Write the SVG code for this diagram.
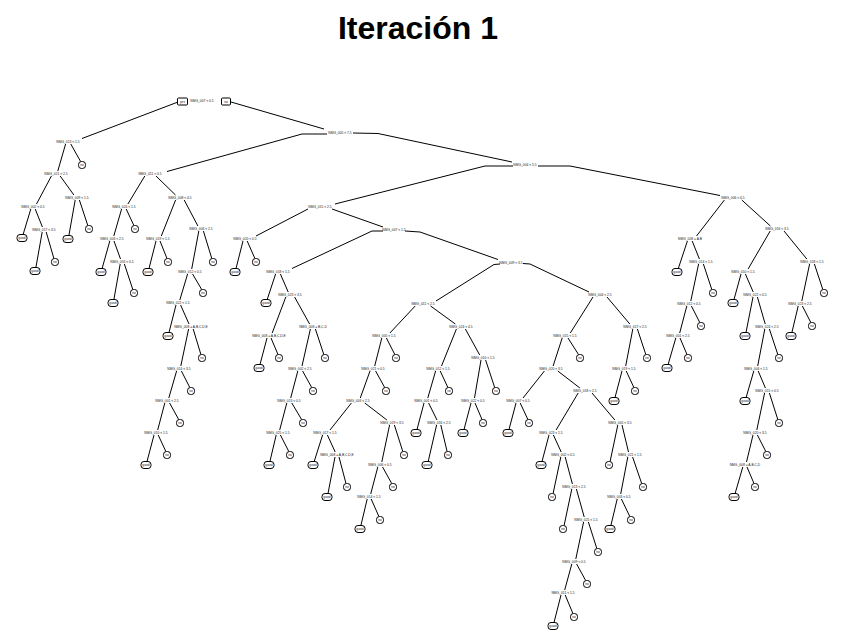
<svg xmlns="http://www.w3.org/2000/svg" width="852" height="642" viewBox="0 0 852 642">
<style>
.bg{fill:#fff}
.title{font-family:"Liberation Sans",Arial,sans-serif;font-size:32px;font-weight:bold;fill:#000;text-anchor:middle}
.e{fill:none;stroke:#000;stroke-width:1}
.s text,.lf text,.yn text{font-family:"Liberation Sans",Arial,sans-serif;font-size:3.3px;fill:#222;text-anchor:middle}
.lf rect,.yn rect{fill:#fff;stroke:#000;stroke-width:1}
.lf rect{rx:3px;ry:3px}
</style>
<rect class="bg" x="0" y="0" width="852" height="642"/>
<text class="title" x="418" y="39">Iteración 1</text>
<g id="connectors">
<path class="e" d="M178 102L82 138.5M231 102L324 129M327 134L302 134L167 171.5M353 133L378 133.5L512 162M513 166L485 166L335 204M538 166L570 166L720 195.5M383 231L372 231L292 268.5M405 231L420 232L498 259.5M500 264L494 264.5L436 301M523 263.5L530 264L589 292"/>
<path class="e" d="M65.6 144L57.8 171M70.8 144L80.6 161.5M51.4 176L36.5 204M60.2 176L73.9 195M30.8 209L23.1 234.5M35.2 209L42.4 227M42.2 232L35.9 267.5M46.2 232L53.9 258.5M75.2 200L68.9 235.5M79.4 200L87.8 225.5"/>
<path class="e" d="M144.8 176L127.9 204M156 176L175.5 195M121.6 209L113.8 236M126.2 209L133.9 225.5M109.8 241L102.1 268.5M114 241L120.5 259M120.2 264L113.9 299.5M124.4 264L132.8 289.5M175.6 200L161.3 236M184.2 200L197.9 226M156 241L149 268.5M160 241L167 258.5M198.8 231L191.7 269M203.4 231L211.8 258.5M187.6 274L179.8 300M192.6 274L201.7 289.5M176 305L169 332.5M180.6 305L189 324M188.6 329L180.8 366M193.2 329L200.9 354.5M176.6 371L168.8 398M181.4 371L189.8 387.5M164.8 403L157.7 430M169.6 403L178.7 419.5M154 435L147 461.5M158.2 435L165.9 451.5"/>
<path class="e" d="M308 209L256 236M332 209L383 227M243 241L236 268.5M247.2 241L254.9 258.5M275.6 274L267.2 299.5M280.4 274L288.2 292M285.8 297L272.2 333M294.6 297L309.6 324M267 338L260 364.5M271 338L278 354.5M310.4 329L302 366M315.4 329L323.8 354.5M297.8 371L290.7 398M302.6 371L311.7 387.5M286.8 403L279.7 430M291.8 403L301.6 419.5M276.2 435L269.9 461.5M280.4 435L288.8 451.5"/>
<path class="e" d="M415.2 306L389.9 333M430.6 306L455.3 324M381.8 338L374.7 366M386.4 338L394.8 354.5M370 371L360.3 398M375.6 371L384.7 387.5M351.4 403L330 430M364.8 403L386.9 420M322.6 435L314.2 461.5M327.4 435L335.2 452M335 457L328 493.5M339 457L346 483.5M389.6 425L381.8 462M394.4 425L402.8 451.5M377.8 467L370.7 494M382.6 467L391.7 483.5M367.2 499L360.9 525.5M371.2 499L378.9 516.5M456.4 329L441.5 366M465.4 329L479.7 355M435.6 371L427.8 398M440.2 371L447.9 387.5M424 403L417 429.5M428.6 403L437 420M436.6 425L428.2 461.5M440.8 425L447.1 451.5M481 360L474.5 398M485.6 360L494.7 387.5M471 403L464 429.5M475 403L482 419.5"/>
<path class="e" d="M593 297L570.3 333M607 297L629.8 324M562.2 338L553.1 366M568 338L578.5 354.5M544.4 371L523 398M557.8 371L579.9 388M516 403L509 429.5M520.2 403L527.9 419.5M578.2 393L556.1 430M592 393L614.8 420M549 435L542 461.5M553.4 435L561.2 452M560.8 457L553.1 493.5M565.2 457L572.4 484M571.8 489L564.1 525.5M576.4 489L584.2 517M583.6 522L575.8 559M588.4 522L596.8 548.5M571.8 564L564.7 590M576.6 564L585.7 580.5M561 595L554 622.5M565.2 595L572.9 613.5M617.8 425L610.1 461.5M622 425L628.5 452M627.8 457L620.7 494M632.6 457L641.7 483.5M617.2 499L610.9 525.5M621.4 499L629.8 516.5M632.8 329L625.7 366M637.4 329L645.8 354.5M622 371L615 397.5M626.2 371L633.9 387.5"/>
<path class="e" d="M724.4 200L696.5 236M741.8 200L770.4 226M687.4 241L678.3 268.5M692.2 241L699.4 259M698.6 264L690.8 301M703.4 264L711.8 289.5M686.8 306L679.7 333M691.4 306L699.8 322.5M675.8 338L668.1 364.5M680 338L687 354.5M770.2 231L748.1 269M784 231L806.8 259M741 274L734 299.5M745.4 274L753.2 292M753 297L746 332.5M757.4 297L765.2 324M764.8 329L757.7 366M769.4 329L777.8 354.5M753.8 371L746.1 397.5M758.2 371L765.4 388M764.6 393L756.8 430M769.4 393L777.8 419.5M753 435L746.5 462M757.4 435L765.8 451.5M742.8 467L735.1 493.5M747 467L754 483.5M809.6 264L801.8 301M814.4 264L822.8 289.5M798.2 306L791.9 332.5M802.4 306L810.8 322.5"/>
</g>
<g id="n0" class="s"><text x="202" y="102.1">NMG_007 &lt; 0.5</text></g>
<g id="yesno" class="yn"><rect x="177.5" y="98" width="10" height="7" rx="1"/><text x="182.5" y="102.6">yes</text><rect x="221.5" y="98" width="9" height="7" rx="1"/><text x="226" y="102.6">no</text></g>
<g id="n1" class="s"><text x="68" y="143.1">NMG_013 &lt; 1.5</text></g>
<g id="n3" class="s"><text x="56" y="175.1">NMG_021 &lt; 2.5</text></g>
<g id="n4" class="s"><text x="33" y="208.1">NMG_002 &lt; 0.5</text></g>
<g id="n6" class="s"><text x="44" y="231.1">NMG_017 &lt; 3.5</text></g>
<g id="n5" class="s"><text x="77" y="199.1">NMG_009 &lt; 1.5</text></g>
<g id="n2" class="s"><text x="340" y="134.1">NMG_005 &lt; 7.5</text></g>
<g id="n7" class="s"><text x="150" y="175.1">NMG_011 &lt; 0.5</text></g>
<g id="n9" class="s"><text x="124" y="208.1">NMG_024 &lt; 1.5</text></g>
<g id="n11" class="s"><text x="112" y="240.1">NMG_003 &lt; 2.5</text></g>
<g id="n12" class="s"><text x="122" y="263.1">NMG_016 &lt; 0.5</text></g>
<g id="n10" class="s"><text x="180" y="199.1">NMG_008 &lt; 4.5</text></g>
<g id="n13" class="s"><text x="158" y="240.1">NMG_019 &lt; 1.5</text></g>
<g id="n14" class="s"><text x="201" y="230.1">NMG_006 &lt; 2.5</text></g>
<g id="n15" class="s"><text x="190" y="273.1">NMG_012 &lt; 0.5</text></g>
<g id="n16" class="s"><text x="178" y="304.1">NMG_022 &lt; 1.5</text></g>
<g id="n17" class="s"><text x="191" y="328.1">NMG_008 = A,B,C,D,E</text></g>
<g id="n18" class="s"><text x="179" y="370.1">NMG_014 &lt; 3.5</text></g>
<g id="n19" class="s"><text x="167" y="402.1">NMG_001 &lt; 2.5</text></g>
<g id="n20" class="s"><text x="156" y="434.1">NMG_010 &lt; 1.5</text></g>
<g id="n8" class="s"><text x="525" y="166.1">NMG_004 &lt; 5.5</text></g>
<g id="n21" class="s"><text x="320" y="208.1">NMG_015 &lt; 2.5</text></g>
<g id="n24" class="s"><text x="245" y="240.1">NMG_020 &lt; 0.5</text></g>
<g id="n23" class="s"><text x="394" y="231.1">NMG_007 &lt; 1.5</text></g>
<g id="n25" class="s"><text x="278" y="273.1">NMG_018 &lt; 1.5</text></g>
<g id="n27" class="s"><text x="290" y="296.1">NMG_023 &lt; 3.5</text></g>
<g id="n28" class="s"><text x="269" y="337.1">NMG_008 = A,B,C,D,E</text></g>
<g id="n29" class="s"><text x="313" y="328.1">NMG_008 = B,C,D</text></g>
<g id="n30" class="s"><text x="300" y="370.1">NMG_002 &lt; 2.5</text></g>
<g id="n31" class="s"><text x="289" y="402.1">NMG_013 &lt; 0.5</text></g>
<g id="n32" class="s"><text x="278" y="434.1">NMG_025 &lt; 1.5</text></g>
<g id="n26" class="s"><text x="511" y="264.1">NMG_009 &lt; 3.5</text></g>
<g id="n33" class="s"><text x="423" y="305.1">NMG_011 &lt; 2.5</text></g>
<g id="n35" class="s"><text x="384" y="337.1">NMG_005 &lt; 1.5</text></g>
<g id="n37" class="s"><text x="373" y="370.1">NMG_021 &lt; 0.5</text></g>
<g id="n38" class="s"><text x="358" y="402.1">NMG_003 &lt; 2.5</text></g>
<g id="n39" class="s"><text x="325" y="434.1">NMG_017 &lt; 1.5</text></g>
<g id="n41" class="s"><text x="337" y="456.1">NMG_008 = A,B,C,D,E</text></g>
<g id="n40" class="s"><text x="392" y="424.1">NMG_019 &lt; 3.5</text></g>
<g id="n42" class="s"><text x="380" y="466.1">NMG_006 &lt; 0.5</text></g>
<g id="n43" class="s"><text x="369" y="498.1">NMG_014 &lt; 1.5</text></g>
<g id="n36" class="s"><text x="461" y="328.1">NMG_024 &lt; 4.5</text></g>
<g id="n44" class="s"><text x="438" y="370.1">NMG_012 &lt; 1.5</text></g>
<g id="n46" class="s"><text x="426" y="402.1">NMG_001 &lt; 0.5</text></g>
<g id="n47" class="s"><text x="439" y="424.1">NMG_016 &lt; 2.5</text></g>
<g id="n45" class="s"><text x="483" y="359.1">NMG_010 &lt; 1.5</text></g>
<g id="n48" class="s"><text x="473" y="402.1">NMG_022 &lt; 0.5</text></g>
<g id="n34" class="s"><text x="600" y="296.1">NMG_004 &lt; 2.5</text></g>
<g id="n49" class="s"><text x="565" y="337.1">NMG_015 &lt; 1.5</text></g>
<g id="n51" class="s"><text x="551" y="370.1">NMG_020 &lt; 3.5</text></g>
<g id="n52" class="s"><text x="518" y="402.1">NMG_007 &lt; 0.5</text></g>
<g id="n53" class="s"><text x="585" y="392.1">NMG_018 &lt; 2.5</text></g>
<g id="n54" class="s"><text x="551" y="434.1">NMG_023 &lt; 1.5</text></g>
<g id="n56" class="s"><text x="563" y="456.1">NMG_002 &lt; 0.5</text></g>
<g id="n57" class="s"><text x="574" y="488.1">NMG_013 &lt; 2.5</text></g>
<g id="n58" class="s"><text x="586" y="521.1">NMG_025 &lt; 1.5</text></g>
<g id="n59" class="s"><text x="574" y="563.1">NMG_009 &lt; 0.5</text></g>
<g id="n60" class="s"><text x="563" y="594.1">NMG_011 &lt; 1.5</text></g>
<g id="n55" class="s"><text x="620" y="424.1">NMG_005 &lt; 3.5</text></g>
<g id="n61" class="s"><text x="630" y="456.1">NMG_021 &lt; 1.5</text></g>
<g id="n62" class="s"><text x="619" y="498.1">NMG_003 &lt; 0.5</text></g>
<g id="n50" class="s"><text x="635" y="328.1">NMG_017 &lt; 2.5</text></g>
<g id="n63" class="s"><text x="624" y="370.1">NMG_019 &lt; 1.5</text></g>
<g id="n22" class="s"><text x="733" y="199.1">NMG_006 &lt; 6.5</text></g>
<g id="n64" class="s"><text x="690" y="240.1">NMG_008 = A,B</text></g>
<g id="n66" class="s"><text x="701" y="263.1">NMG_014 &lt; 1.5</text></g>
<g id="n67" class="s"><text x="689" y="305.1">NMG_012 &lt; 0.5</text></g>
<g id="n68" class="s"><text x="678" y="337.1">NMG_001 &lt; 2.5</text></g>
<g id="n65" class="s"><text x="777" y="230.1">NMG_016 &lt; 3.5</text></g>
<g id="n69" class="s"><text x="743" y="273.1">NMG_010 &lt; 1.5</text></g>
<g id="n71" class="s"><text x="755" y="296.1">NMG_022 &lt; 0.5</text></g>
<g id="n72" class="s"><text x="767" y="328.1">NMG_024 &lt; 2.5</text></g>
<g id="n73" class="s"><text x="756" y="370.1">NMG_004 &lt; 1.5</text></g>
<g id="n74" class="s"><text x="767" y="392.1">NMG_015 &lt; 0.5</text></g>
<g id="n75" class="s"><text x="755" y="434.1">NMG_020 &lt; 3.5</text></g>
<g id="n76" class="s"><text x="745" y="466.1">NMG_008 = A,B,C,D</text></g>
<g id="n70" class="s"><text x="812" y="263.1">NMG_018 &lt; 1.5</text></g>
<g id="n77" class="s"><text x="800" y="305.1">NMG_023 &lt; 2.5</text></g>
<g id="leaves" class="lf">
<g id="l1"><rect x="78.5" y="161.5" width="7" height="7"/><text x="82" y="166.1">no</text></g>
<g id="l2"><rect x="17" y="234.5" width="10" height="7"/><text x="22" y="239.1">good</text></g>
<g id="l3"><rect x="30" y="267.5" width="10" height="7"/><text x="35" y="272.1">good</text></g>
<g id="l4"><rect x="51.5" y="258.5" width="7" height="7"/><text x="55" y="263.1">no</text></g>
<g id="l5"><rect x="63" y="235.5" width="10" height="7"/><text x="68" y="240.1">good</text></g>
<g id="l6"><rect x="85.5" y="225.5" width="7" height="7"/><text x="89" y="230.1">no</text></g>
<g id="l7"><rect x="131.5" y="225.5" width="7" height="7"/><text x="135" y="230.1">no</text></g>
<g id="l8"><rect x="96" y="268.5" width="10" height="7"/><text x="101" y="273.1">good</text></g>
<g id="l9"><rect x="108" y="299.5" width="10" height="7"/><text x="113" y="304.1">good</text></g>
<g id="l10"><rect x="130.5" y="289.5" width="7" height="7"/><text x="134" y="294.1">no</text></g>
<g id="l11"><rect x="143" y="268.5" width="10" height="7"/><text x="148" y="273.1">good</text></g>
<g id="l12"><rect x="164.5" y="258.5" width="7" height="7"/><text x="168" y="263.1">no</text></g>
<g id="l13"><rect x="209.5" y="258.5" width="7" height="7"/><text x="213" y="263.1">no</text></g>
<g id="l14"><rect x="199.5" y="289.5" width="7" height="7"/><text x="203" y="294.1">no</text></g>
<g id="l15"><rect x="163" y="332.5" width="10" height="7"/><text x="168" y="337.1">good</text></g>
<g id="l16"><rect x="198.5" y="354.5" width="7" height="7"/><text x="202" y="359.1">no</text></g>
<g id="l17"><rect x="187.5" y="387.5" width="7" height="7"/><text x="191" y="392.1">no</text></g>
<g id="l18"><rect x="176.5" y="419.5" width="7" height="7"/><text x="180" y="424.1">no</text></g>
<g id="l19"><rect x="141" y="461.5" width="10" height="7"/><text x="146" y="466.1">good</text></g>
<g id="l20"><rect x="163.5" y="451.5" width="7" height="7"/><text x="167" y="456.1">no</text></g>
<g id="l21"><rect x="230" y="268.5" width="10" height="7"/><text x="235" y="273.1">good</text></g>
<g id="l22"><rect x="252.5" y="258.5" width="7" height="7"/><text x="256" y="263.1">no</text></g>
<g id="l23"><rect x="261" y="299.5" width="10" height="7"/><text x="266" y="304.1">good</text></g>
<g id="l24"><rect x="254" y="364.5" width="10" height="7"/><text x="259" y="369.1">good</text></g>
<g id="l25"><rect x="275.5" y="354.5" width="7" height="7"/><text x="279" y="359.1">no</text></g>
<g id="l26"><rect x="321.5" y="354.5" width="7" height="7"/><text x="325" y="359.1">no</text></g>
<g id="l27"><rect x="309.5" y="387.5" width="7" height="7"/><text x="313" y="392.1">no</text></g>
<g id="l28"><rect x="299.5" y="419.5" width="7" height="7"/><text x="303" y="424.1">no</text></g>
<g id="l29"><rect x="264" y="461.5" width="10" height="7"/><text x="269" y="466.1">good</text></g>
<g id="l30"><rect x="286.5" y="451.5" width="7" height="7"/><text x="290" y="456.1">no</text></g>
<g id="l31"><rect x="392.5" y="354.5" width="7" height="7"/><text x="396" y="359.1">no</text></g>
<g id="l32"><rect x="382.5" y="387.5" width="7" height="7"/><text x="386" y="392.1">no</text></g>
<g id="l33"><rect x="308" y="461.5" width="10" height="7"/><text x="313" y="466.1">good</text></g>
<g id="l34"><rect x="322" y="493.5" width="10" height="7"/><text x="327" y="498.1">good</text></g>
<g id="l35"><rect x="343.5" y="483.5" width="7" height="7"/><text x="347" y="488.1">no</text></g>
<g id="l36"><rect x="400.5" y="451.5" width="7" height="7"/><text x="404" y="456.1">no</text></g>
<g id="l37"><rect x="389.5" y="483.5" width="7" height="7"/><text x="393" y="488.1">no</text></g>
<g id="l38"><rect x="355" y="525.5" width="10" height="7"/><text x="360" y="530.1">good</text></g>
<g id="l39"><rect x="376.5" y="516.5" width="7" height="7"/><text x="380" y="521.1">no</text></g>
<g id="l40"><rect x="445.5" y="387.5" width="7" height="7"/><text x="449" y="392.1">no</text></g>
<g id="l41"><rect x="411" y="429.5" width="10" height="7"/><text x="416" y="434.1">good</text></g>
<g id="l42"><rect x="422" y="461.5" width="10" height="7"/><text x="427" y="466.1">good</text></g>
<g id="l43"><rect x="444.5" y="451.5" width="7" height="7"/><text x="448" y="456.1">no</text></g>
<g id="l44"><rect x="492.5" y="387.5" width="7" height="7"/><text x="496" y="392.1">no</text></g>
<g id="l45"><rect x="458" y="429.5" width="10" height="7"/><text x="463" y="434.1">good</text></g>
<g id="l46"><rect x="479.5" y="419.5" width="7" height="7"/><text x="483" y="424.1">no</text></g>
<g id="l47"><rect x="576.5" y="354.5" width="7" height="7"/><text x="580" y="359.1">no</text></g>
<g id="l48"><rect x="503" y="429.5" width="10" height="7"/><text x="508" y="434.1">good</text></g>
<g id="l49"><rect x="525.5" y="419.5" width="7" height="7"/><text x="529" y="424.1">no</text></g>
<g id="l50"><rect x="536" y="461.5" width="10" height="7"/><text x="541" y="466.1">good</text></g>
<g id="l51"><rect x="548.5" y="493.5" width="7" height="7"/><text x="552" y="498.1">no</text></g>
<g id="l52"><rect x="559.5" y="525.5" width="7" height="7"/><text x="563" y="530.1">no</text></g>
<g id="l53"><rect x="594.5" y="548.5" width="7" height="7"/><text x="598" y="553.1">no</text></g>
<g id="l54"><rect x="583.5" y="580.5" width="7" height="7"/><text x="587" y="585.1">no</text></g>
<g id="l55"><rect x="548" y="622.5" width="10" height="7"/><text x="553" y="627.1">good</text></g>
<g id="l56"><rect x="570.5" y="613.5" width="7" height="7"/><text x="574" y="618.1">no</text></g>
<g id="l57"><rect x="605.5" y="461.5" width="7" height="7"/><text x="609" y="466.1">no</text></g>
<g id="l58"><rect x="639.5" y="483.5" width="7" height="7"/><text x="643" y="488.1">no</text></g>
<g id="l59"><rect x="605" y="525.5" width="10" height="7"/><text x="610" y="530.1">good</text></g>
<g id="l60"><rect x="627.5" y="516.5" width="7" height="7"/><text x="631" y="521.1">no</text></g>
<g id="l61"><rect x="643.5" y="354.5" width="7" height="7"/><text x="647" y="359.1">no</text></g>
<g id="l62"><rect x="609" y="397.5" width="10" height="7"/><text x="614" y="402.1">good</text></g>
<g id="l63"><rect x="631.5" y="387.5" width="7" height="7"/><text x="635" y="392.1">no</text></g>
<g id="l64"><rect x="672" y="268.5" width="10" height="7"/><text x="677" y="273.1">good</text></g>
<g id="l65"><rect x="709.5" y="289.5" width="7" height="7"/><text x="713" y="294.1">no</text></g>
<g id="l66"><rect x="697.5" y="322.5" width="7" height="7"/><text x="701" y="327.1">no</text></g>
<g id="l67"><rect x="662" y="364.5" width="10" height="7"/><text x="667" y="369.1">good</text></g>
<g id="l68"><rect x="684.5" y="354.5" width="7" height="7"/><text x="688" y="359.1">no</text></g>
<g id="l69"><rect x="728" y="299.5" width="10" height="7"/><text x="733" y="304.1">good</text></g>
<g id="l70"><rect x="740" y="332.5" width="10" height="7"/><text x="745" y="337.1">good</text></g>
<g id="l71"><rect x="775.5" y="354.5" width="7" height="7"/><text x="779" y="359.1">no</text></g>
<g id="l72"><rect x="740" y="397.5" width="10" height="7"/><text x="745" y="402.1">good</text></g>
<g id="l73"><rect x="775.5" y="419.5" width="7" height="7"/><text x="779" y="424.1">no</text></g>
<g id="l74"><rect x="763.5" y="451.5" width="7" height="7"/><text x="767" y="456.1">no</text></g>
<g id="l75"><rect x="729" y="493.5" width="10" height="7"/><text x="734" y="498.1">good</text></g>
<g id="l76"><rect x="751.5" y="483.5" width="7" height="7"/><text x="755" y="488.1">no</text></g>
<g id="l77"><rect x="820.5" y="289.5" width="7" height="7"/><text x="824" y="294.1">no</text></g>
<g id="l78"><rect x="786" y="332.5" width="10" height="7"/><text x="791" y="337.1">good</text></g>
<g id="l79"><rect x="808.5" y="322.5" width="7" height="7"/><text x="812" y="327.1">no</text></g>
</g>
</svg>
